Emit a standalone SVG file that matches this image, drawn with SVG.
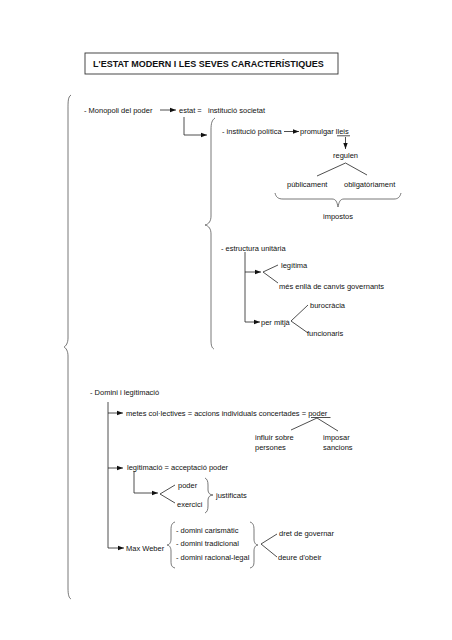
<svg xmlns="http://www.w3.org/2000/svg" width="452" height="640" viewBox="0 0 452 640">
<style>
text{font-family:"Liberation Sans",Arial,sans-serif;font-size:7.5px;fill:#111}
.t{font-size:9px;font-weight:bold}
.ln{fill:none;stroke:#222;stroke-width:0.8}
.br{fill:none;stroke:#555;stroke-width:0.8}
.ar{marker-end:url(#ah)}
</style>
<defs>
<marker id="ah" markerUnits="userSpaceOnUse" markerWidth="6" markerHeight="6" viewBox="0 0 6 6" refX="6" refY="3" orient="auto">
<path d="M0,0.8 L6,3 L0,5.2 Z" fill="#111"/>
</marker>
</defs>
<rect width="452" height="640" fill="#fff"/>
<g id="title">
<rect x="85" y="53" width="253" height="21" fill="none" stroke="#333" stroke-width="0.9"/>
<text class="t" x="93" y="67">L'ESTAT MODERN I LES SEVES CARACTERÍSTIQUES</text>
</g>
<g id="braces">
<path class="br" d="M71,95 C68,97 68,101 68,110 L68,338 C68,343 66,346 64,347 C66,348 68,351 68,356 L68,588 C68,595 69,598 71,599"/>
<path class="br" d="M215,118 C212,120 211,123 211,130 L211,216 C211,221 209,224 205,225 C209,226 211,229 211,234 L211,340 C211,346 212,348 214,349"/>
<path class="br" d="M275,193 C276,197 278,199 283,199 L332,199 C336,199 337,202 338,207 C339,202 340,199 344,199 L394,199 C398,199 400,197 401,193"/>
<path class="br" d="M205,478 C207,479 208,481 208,485 L208,490 C208,493 210,495 213,495 C210,495 208,497 208,500 L208,506 C208,510 207,512 205,513"/>
<path class="br" d="M175,522 C172,523 171,525 171,530 L171,539 C171,543 169,545 167,545 C169,545 171,547 171,551 L171,561 C171,566 172,567 175,568"/>
<path class="br" d="M250,522 C253,523 254,525 254,530 L254,539 C254,543 256,545 258,545 C256,545 254,547 254,551 L254,561 C254,566 253,567 250,568"/>
</g>
<g id="connectors">
<path class="ln ar" d="M160,110 H176"/>
<path class="ln ar" d="M184,117 V135 H207"/>
<path class="ln ar" d="M284,131.5 H299"/>
<path class="ln ar" d="M345.5,137 V149"/>
<path class="ln" d="M317,176 L345.5,163 L367,175"/>
<path class="ln" d="M245,252 V322"/>
<path class="ln ar" d="M245,272 H261"/>
<path class="ln ar" d="M245,322 H260"/>
<path class="ln" d="M278,265 L263,272 L278,283"/>
<path class="ln" d="M308,305 L291,321 L308,333"/>
<path class="ln" d="M108,402 V548"/>
<path class="ln ar" d="M108,413 H123"/>
<path class="ln ar" d="M108,468 H123"/>
<path class="ln ar" d="M108,548 H124"/>
<path class="ln" d="M291,430 L317,418 L338,431"/>
<path class="ln ar" d="M134,471 V493 H158"/>
<path class="ln" d="M175,485 L160,494 L175,503"/>
<path class="ln" d="M277,534 L261,544 L277,557"/>
</g>
<g id="n-monopoli"><text x="84" y="113">- Monopoli del poder</text></g>
<g id="n-estat"><text x="179" y="113">estat =</text><text x="208" y="113">institució societat</text></g>
<g id="n-politica"><text x="222" y="134">- institució política</text></g>
<g id="n-lleis"><text x="300" y="134">promulgar <tspan>lleis</tspan></text><path class="ln" d="M337,135.8 H350" stroke-width="0.6"/></g>
<g id="n-regulen"><text x="345.5" y="158" text-anchor="middle">regulen</text></g>
<g id="n-public"><text x="287" y="187">públicament</text></g>
<g id="n-oblig"><text x="344" y="187">obligatòriament</text></g>
<g id="n-impostos"><text x="338" y="219" text-anchor="middle">impostos</text></g>
<g id="n-estructura"><text x="221" y="250.5">- estructura unitària</text></g>
<g id="n-legitima"><text x="281" y="267.5">legítima</text></g>
<g id="n-canvis"><text x="279" y="288.5">més enllà de canvis governants</text></g>
<g id="n-mitja"><text x="261" y="324.5">per mitjà</text></g>
<g id="n-buro"><text x="310" y="307.5">burocràcia</text></g>
<g id="n-func"><text x="307" y="335.5">funcionaris</text></g>
<g id="n-domini"><text x="90" y="394.5">- Domini i legitimació</text></g>
<g id="n-metes"><text x="126" y="415.5">metes col·lectives = accions individuals concertades = poder</text><path class="ln" d="M311,417.5 H330.5" stroke-width="0.6"/></g>
<g id="n-influir"><text x="255" y="440">influir sobre</text><text x="255" y="449.5">persones</text></g>
<g id="n-imposar"><text x="323" y="440">imposar</text><text x="323" y="449.5">sancions</text></g>
<g id="n-legitimacio"><text x="127" y="470">legitimació = acceptació poder</text></g>
<g id="n-poder"><text x="178" y="487.5">poder</text></g>
<g id="n-exercici"><text x="177" y="506.5">exercici</text></g>
<g id="n-justificats"><text x="216" y="497.5">justificats</text></g>
<g id="n-weber"><text x="126" y="550.5">Max Weber</text></g>
<g id="n-tipus"><text x="176" y="532.5">- domini carismàtic</text><text x="176" y="546">- domini tradicional</text><text x="176" y="560">- domini racional-legal</text></g>
<g id="n-dret"><text x="279" y="535.5">dret de governar</text></g>
<g id="n-deure"><text x="278" y="560">deure d'obeir</text></g>
</svg>
